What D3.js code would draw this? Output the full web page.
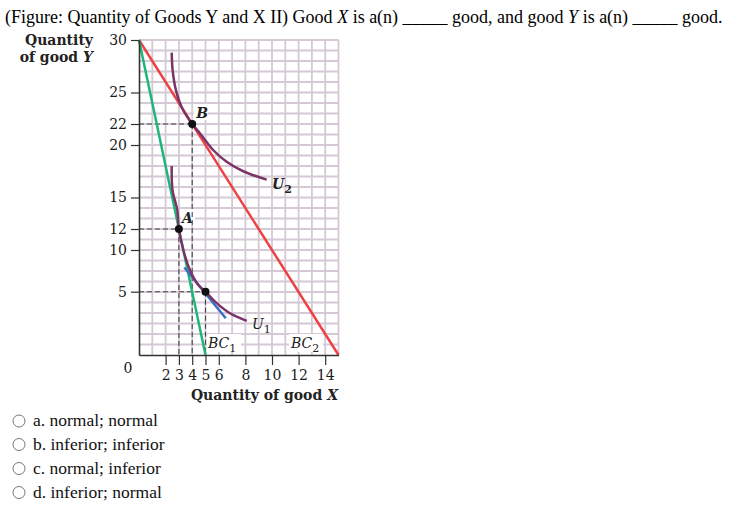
<!DOCTYPE html>
<html><head><meta charset="utf-8">
<script src="https://cdn.jsdelivr.net/npm/d3@7"></script>
<style>body{margin:0;background:#fff}svg{display:block}</style>
</head><body>
<svg id="c" width="732" height="508"></svg>
<script>
const yTicks = [5, 10, 12, 15, 20, 22, 25, 30];
const xTicks = [2, 3, 4, 5, 6, 8, 10, 12, 14];
const bc1 = [[0, 30], [5, 0]];
const bc2 = [[0, 30], [15, 0]];
const u2 = [[2.46, 28.8], [2.53, 27.1], [2.78, 25.2], [3.21, 23.6], [4.0, 22.0], [4.59, 21.1], [5.59, 19.5], [6.59, 18.4], [7.84, 17.5], [9.6, 16.7]];
const u1 = [[2.46, 18.0], [2.52, 15.7], [2.88, 13.8], [3.0, 12.0], [3.33, 10.0], [3.83, 7.6], [4.46, 5.8], [5.0, 5.0], [5.84, 4.1], [6.84, 3.3], [8.1, 2.7]];
const tangent = [[3.41, 7.9], [6.52, 2.9]];
const points = [{x: 4, y: 22, label: "B"}, {x: 3, y: 12, label: "A"}, {x: 5, y: 5, label: ""}];
const options = ["a. normal; normal", "b. inferior; inferior", "c. normal; inferior", "d. inferior; normal"];

const svg = d3.select("#c");
const x = d3.scaleLinear().domain([0, 15]).range([139, 338.5]);
const y = d3.scaleLinear().domain([0, 5, 10, 30]).range([355, 291.7, 250, 40]);
const gridY = d3.scaleLinear().domain([0, 30]).range([355, 40]);

// Question text
const q = svg.append("text").attr("x", 5).attr("y", 23)
  .attr("font-family", "Liberation Serif").attr("font-size", 18).attr("fill", "#000");
q.append("tspan").text("(Figure: Quantity of Goods Y and X II) Good ");
q.append("tspan").attr("font-style", "italic").text("X");
q.append("tspan").text(" is a(n) _____ good, and good ");
q.append("tspan").attr("font-style", "italic").text("Y");
q.append("tspan").text(" is a(n) _____ good.");

// grid
const grid = svg.append("g").attr("stroke", "#d4c9d4").attr("stroke-width", 1.8);
d3.range(1, 16).forEach(i => grid.append("line").attr("x1", x(i)).attr("x2", x(i)).attr("y1", gridY(0)).attr("y2", gridY(30)));
d3.range(1, 31).forEach(i => grid.append("line").attr("x1", x(0)).attr("x2", x(15)).attr("y1", gridY(i)).attr("y2", gridY(i)));

// label backgrounds
function bg(cx, cy, w, h) {
  svg.append("rect").attr("x", cx - w / 2).attr("y", cy - h / 2).attr("width", w).attr("height", h).attr("fill", "#fff");
}
bg(224, 343, 34, 18);
bg(306, 343, 34, 18);
bg(188, 217, 14, 16);
bg(201, 112, 14, 16);

// dashed guides
const dash = svg.append("g").attr("stroke", "#444").attr("stroke-width", 1.1).attr("stroke-dasharray", "5,3");
points.forEach(p => {
  dash.append("line").attr("x1", x(0)).attr("x2", x(p.x)).attr("y1", y(p.y)).attr("y2", y(p.y));
  dash.append("line").attr("x1", x(p.x)).attr("x2", x(p.x)).attr("y1", y(p.y)).attr("y2", y(0));
});

const line = d3.line().x(d => x(d[0])).y(d => y(d[1]));
const curve = d3.line().x(d => x(d[0])).y(d => y(d[1])).curve(d3.curveCatmullRom);

svg.append("path").attr("d", line(bc2)).attr("fill", "none").attr("stroke", "#ec4245").attr("stroke-width", 2.5);
svg.append("path").attr("d", line(bc1)).attr("fill", "none").attr("stroke", "#1fb67c").attr("stroke-width", 2.5);
svg.append("path").attr("d", line(tangent)).attr("fill", "none").attr("stroke", "#3a6fc4").attr("stroke-width", 2.5);
svg.append("path").attr("d", curve(u2)).attr("fill", "none").attr("stroke", "#7a3466").attr("stroke-width", 2.5);
svg.append("path").attr("d", curve(u1)).attr("fill", "none").attr("stroke", "#7a3466").attr("stroke-width", 2.5);

// axes
const yAxis = svg.append("g").attr("transform", `translate(${x(0)},0)`)
  .call(d3.axisLeft(y).tickValues(yTicks).tickSize(8).tickPadding(4).tickSizeOuter(0));
const xAxis = svg.append("g").attr("transform", `translate(0,${y(0)})`)
  .call(d3.axisBottom(x).tickValues(xTicks).tickSize(10).tickPadding(5).tickSizeOuter(0));
[yAxis, xAxis].forEach(a => {
  a.select(".domain").attr("stroke", "#333").attr("stroke-width", 1.6);
  a.selectAll(".tick line").attr("stroke", "#333").attr("stroke-width", 1.2);
  a.selectAll(".tick text").attr("font-family", "DejaVu Serif").attr("font-size", 14).attr("fill", "#1a1a1a");
});
svg.append("text").attr("x", 128).attr("y", 373).attr("text-anchor", "middle")
  .attr("font-family", "DejaVu Serif").attr("font-size", 14).attr("fill", "#1a1a1a").text("0");

// points
points.forEach(p => {
  svg.append("circle").attr("cx", x(p.x)).attr("cy", y(p.y)).attr("r", 4).attr("fill", "#111");
});
svg.append("text").attr("x", x(4) + 4).attr("y", y(22) - 6).attr("font-family", "DejaVu Serif")
  .attr("font-weight", "bold").attr("font-style", "italic").attr("font-size", 14).attr("fill", "#222").text("B");
svg.append("text").attr("x", x(3) + 3).attr("y", y(12) - 6).attr("font-family", "DejaVu Serif")
  .attr("font-weight", "bold").attr("font-style", "italic").attr("font-size", 14).attr("fill", "#222").text("A");

// curve labels
function sublabel(px, py, main, sub, bold) {
  const t = svg.append("text").attr("x", px).attr("y", py).attr("font-family", "DejaVu Serif")
    .attr("font-style", "italic").attr("font-size", 14).attr("fill", "#222");
  if (bold) t.attr("font-weight", "bold");
  t.append("tspan").text(main);
  t.append("tspan").attr("font-size", 11).attr("dy", 4).attr("font-style", "normal").text(sub);
}
sublabel(272, 189, "U", "2", true);
sublabel(252, 329, "U", "1", false);
sublabel(208, 348, "BC", "1", false);
sublabel(291, 348, "BC", "2", false);

// axis titles
const yt = svg.append("text").attr("font-family", "DejaVu Serif").attr("font-weight", "bold")
  .attr("font-size", 14).attr("fill", "#222").attr("text-anchor", "end");
yt.append("tspan").attr("x", 93).attr("y", 45).text("Quantity");
yt.append("tspan").attr("x", 93).attr("y", 62).text("of good ");
yt.append("tspan").attr("font-style", "italic").text("Y");
const xt = svg.append("text").attr("x", 338).attr("y", 400).attr("text-anchor", "end")
  .attr("font-family", "DejaVu Serif").attr("font-weight", "bold").attr("font-size", 14).attr("fill", "#222");
xt.append("tspan").text("Quantity of good ");
xt.append("tspan").attr("font-style", "italic").text("X");

// options
const oy = [421, 444.5, 468.5, 492.5];
options.forEach((o, i) => {
  svg.append("circle").attr("cx", 19).attr("cy", oy[i]).attr("r", 6).attr("fill", "#fff").attr("stroke", "#777").attr("stroke-width", 1);
  svg.append("text").attr("x", 33).attr("y", oy[i] + 5).attr("font-family", "Liberation Serif")
    .attr("font-size", 17.5).attr("fill", "#111").text(o);
});
</script>
</body></html>
